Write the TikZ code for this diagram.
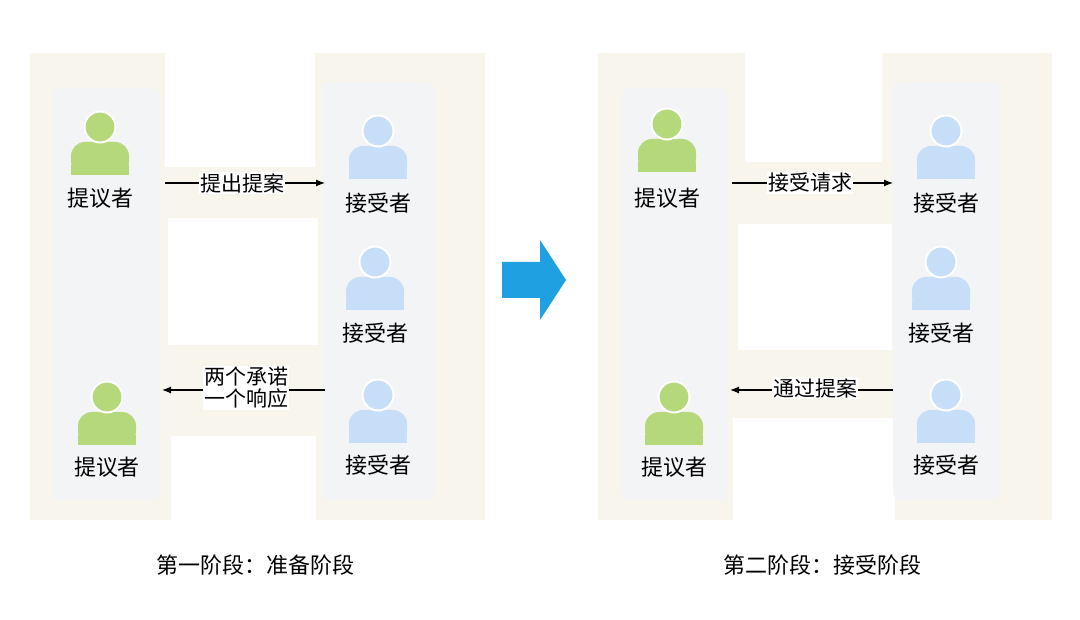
\documentclass[tikz,border=0pt]{standalone}
\usepackage{fontspec}
\setmainfont{Noto Sans CJK SC}
\usetikzlibrary{arrows.meta}
\begin{document}
\begin{tikzpicture}[x=1pt,y=-1pt,
  lbl/.style={font=\fontsize{22}{26}\selectfont, inner sep=1pt},
  tag/.style={font=\fontsize{21}{24}\selectfont, fill=white, inner sep=1pt, align=center},
  conn/.style={-{Latex[length=9pt,width=7pt]}, line width=1.2pt}]
\definecolor{bg}{HTML}{F8F6EC}
\definecolor{gr}{HTML}{F3F4F6}
\definecolor{pg}{HTML}{B5D97A}
\definecolor{pb}{HTML}{C6DEF7}
\definecolor{ba}{HTML}{1FA0E0}
\useasboundingbox (0,0) rectangle (1080,620);
\fill[white] (0,0) rectangle (1080,620);
% panels
\fill[bg] (30,53) rectangle (485,520);
\fill[white] (165,53) rectangle (315,167);
\fill[white] (168,218) rectangle (318,345);
\fill[white] (171,436) rectangle (316,520);
\fill[bg] (598,53) rectangle (1052,520);
\fill[white] (745,53) rectangle (882,162);
\fill[white] (738,224) rectangle (892,350);
\fill[white] (733,418) rectangle (895,520);
\fill[gr, rounded corners=8pt] (52,88) rectangle (160,500);
\fill[gr, rounded corners=8pt] (322,82) rectangle (435,500);
\fill[gr, rounded corners=8pt] (622,88) rectangle (727,500);
\fill[gr, rounded corners=8pt] (893,82) rectangle (1000,500);
% person macro
\newcommand\person[3]{% x, headY, color
  \fill[#3, rounded corners=14pt] (#1-29,#2+48) -- (#1-29,#2+15) -- (#1+29,#2+15) -- (#1+29,#2+48) -- cycle;
  \fill[#3] (#1-29,#2+38) rectangle (#1+29,#2+48);
  \filldraw[#3, draw=white, line width=2pt] (#1,#2) circle (15.5);
}
\person{100}{127}{pg}
\node[lbl] (p1) at (100,198) {提议者};
\person{378}{131}{pb}
\node[lbl] (a1) at (378,203) {接受者};
\person{375}{262}{pb}
\node[lbl] (a2) at (375,333) {接受者};
\person{378}{395}{pb}
\node[lbl] (a3) at (378,465) {接受者};
\person{107}{397}{pg}
\node[lbl] (p2) at (107,467) {提议者};
\person{667}{124}{pg}
\node[lbl] (q1) at (667,198) {提议者};
\person{946}{131}{pb}
\node[lbl] (b1) at (946,203) {接受者};
\person{941}{262}{pb}
\node[lbl] (b2) at (941,333) {接受者};
\person{946}{395}{pb}
\node[lbl] (b3) at (946,465) {接受者};
\person{674}{397}{pg}
\node[lbl] (q2) at (674,467) {提议者};
% connectors
\coordinate (l1s) at (165,183); \coordinate (l1e) at (325,183);
\draw[conn] (l1s) -- (l1e);
\node[tag] (t1) at (242,183) {提出提案};
\coordinate (l2s) at (325,390); \coordinate (l2e) at (162,390);
\draw[conn] (l2s) -- (l2e);
\node[tag] (t2) at (246,388) {两个承诺\\[-2pt]一个响应};
\coordinate (r1s) at (732,183); \coordinate (r1e) at (893,183);
\draw[conn] (r1s) -- (r1e);
\node[tag] (t3) at (810,183) {接受请求};
\coordinate (r2s) at (893,390); \coordinate (r2e) at (730,390);
\draw[conn] (r2s) -- (r2e);
\node[tag] (t4) at (815,388) {通过提案};
% big arrow
\fill[ba] (502,262) -- (540,262) -- (540,240) -- (566,280) -- (540,320) -- (540,298) -- (502,298) -- cycle;
% captions
\node[lbl] (c1) at (255,565) {第一阶段：准备阶段};
\node[lbl] (c2) at (822,565) {第二阶段：接受阶段};
\end{tikzpicture}
\end{document}
